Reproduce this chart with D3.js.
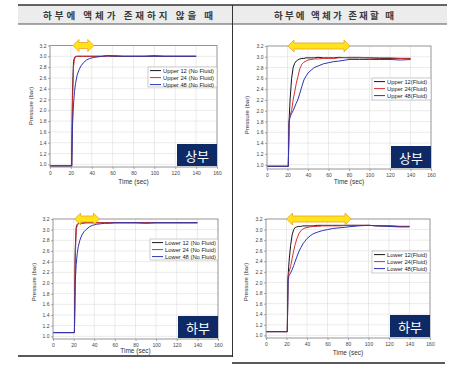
<!DOCTYPE html>
<html><head><meta charset="utf-8">
<script src="https://cdn.jsdelivr.net/npm/d3@7"></script>
<style>body{margin:0;background:#fff} svg{display:block}</style>
</head><body>
<svg id="c" width="474" height="368"></svg>
<script>
// ---------- data ----------
const headers = ["하부에 액체가 존재하지 않을 때", "하부에 액체가 존재할 때"];
const xTicks = [0, 20, 40, 60, 80, 100, 120, 140, 160];
const yTicks = [1.0, 1.2, 1.4, 1.6, 1.8, 2.0, 2.2, 2.4, 2.6, 2.8, 3.0, 3.2];
const xLabel = "Time (sec)";
const yLabel = "Pressure (bar)";

const timeNoFluid = [0, 20.8, 21.5, 22.5, 23.5, 24.5, 26, 28, 30, 32, 35, 38, 42, 46, 50, 55, 60, 70, 80, 90, 100, 110, 120, 130, 140];
const upper12NoFluid = [0.97, 0.97, 2.3, 2.9, 2.98, 3.0, 3.0, 3.0, 3.0, 3.0, 3.0, 3.0, 3.0, 3.0, 3.0, 3.01, 3.0, 3.0, 3.0, 3.0, 3.01, 3.0, 3.0, 3.0, 3.0];
const upper24NoFluid = [0.97, 0.97, 2.1, 2.8, 2.95, 2.99, 3.0, 3.0, 3.0, 3.0, 3.0, 3.0, 3.0, 3.0, 3.0, 3.0, 3.01, 3.0, 3.0, 3.0, 3.0, 3.0, 3.0, 3.0, 3.0];
const upper48NoFluid = [0.97, 0.97, 1.7, 2.1, 2.35, 2.5, 2.65, 2.76, 2.83, 2.88, 2.93, 2.96, 2.98, 2.99, 3.0, 3.01, 3.01, 3.0, 3.0, 3.0, 3.0, 3.0, 3.0, 3.0, 3.0];
const lower12NoFluid = [1.07, 1.07, 2.6, 3.05, 3.1, 3.12, 3.12, 3.12, 3.13, 3.13, 3.13, 3.13, 3.13, 3.13, 3.13, 3.13, 3.13, 3.13, 3.13, 3.13, 3.13, 3.13, 3.13, 3.13, 3.13];
const lower24NoFluid = [1.07, 1.07, 2.4, 3.0, 3.08, 3.11, 3.12, 3.12, 3.12, 3.13, 3.13, 3.13, 3.13, 3.13, 3.13, 3.13, 3.13, 3.13, 3.13, 3.13, 3.13, 3.13, 3.13, 3.13, 3.13];
const lower48NoFluid = [1.07, 1.07, 2.0, 2.35, 2.55, 2.68, 2.8, 2.9, 2.96, 3.0, 3.05, 3.08, 3.1, 3.11, 3.12, 3.12, 3.13, 3.13, 3.13, 3.12, 3.13, 3.13, 3.13, 3.13, 3.13];

const timeFluid = [0, 20.8, 21.5, 22.5, 24, 25.5, 27, 28.5, 30, 32, 34, 36, 38, 40, 43, 46, 50, 55, 60, 65, 70, 80, 90, 100, 110, 120, 130, 140];
const upper12Fluid = [0.97, 0.97, 1.8, 2.2, 2.6, 2.8, 2.88, 2.92, 2.94, 2.96, 2.97, 2.97, 2.98, 2.98, 2.98, 2.98, 2.99, 2.98, 2.98, 2.98, 2.99, 2.98, 2.98, 2.98, 2.97, 2.97, 2.97, 2.97];
const upper24Fluid = [0.97, 0.97, 1.8, 1.92, 2.0, 2.2, 2.35, 2.5, 2.62, 2.78, 2.86, 2.9, 2.92, 2.94, 2.95, 2.96, 2.96, 2.97, 2.97, 2.97, 2.98, 2.99, 2.99, 2.98, 2.98, 2.98, 2.97, 2.97];
const upper48Fluid = [0.97, 0.97, 1.78, 1.88, 1.95, 2.0, 2.07, 2.14, 2.2, 2.32, 2.45, 2.57, 2.64, 2.7, 2.75, 2.8, 2.83, 2.87, 2.89, 2.91, 2.92, 2.95, 2.95, 2.95, 2.95, 2.95, 2.94, 2.95];
const lower12Fluid = [1.07, 1.07, 2.1, 2.4, 2.7, 2.9, 3.0, 3.04, 3.05, 3.06, 3.06, 3.07, 3.07, 3.07, 3.07, 3.07, 3.08, 3.08, 3.08, 3.08, 3.08, 3.08, 3.08, 3.08, 3.07, 3.07, 3.06, 3.06];
const lower24Fluid = [1.07, 1.07, 2.1, 2.2, 2.3, 2.45, 2.6, 2.72, 2.82, 2.92, 2.98, 3.01, 3.03, 3.04, 3.05, 3.06, 3.06, 3.07, 3.07, 3.07, 3.07, 3.08, 3.08, 3.08, 3.07, 3.07, 3.06, 3.06];
const lower48Fluid = [1.07, 1.07, 2.05, 2.13, 2.18, 2.24, 2.32, 2.4, 2.48, 2.58, 2.66, 2.73, 2.78, 2.83, 2.88, 2.92, 2.95, 2.98, 3.0, 3.02, 3.03, 3.05, 3.07, 3.08, 3.07, 3.06, 3.05, 3.05];

const legendUpperNoFluid = ["Upper 12 (No Fluid)", "Upper 24 (No Fluid)", "Upper 48 (No Fluid)"];
const legendUpperFluid = ["Upper 12(Fluid)", "Upper 24(Fluid)", "Upper 48(Fluid)"];
const legendLowerNoFluid = ["Lower 12 (No Fluid)", "Lower 24 (No Fluid)", "Lower 48 (No Fluid)"];
const legendLowerFluid = ["Lower 12(Fluid)", "Lower 24(Fluid)", "Lower 48(Fluid)"];
const badgeLabels = ["상부", "하부"];
const arrowSpans = [[22, 42], [20.5, 81], [21, 45], [20, 83]];

// ---------- styles / layout ----------
const colors = ["#151520", "#d83030", "#2b36b0"];
const svg = d3.select("#c");

// table
const tbl = svg.append("g");
tbl.append("rect").attr("x", 18).attr("y", 5).attr("width", 429).attr("height", 19).attr("fill", "#ececec");
tbl.append("line").attr("x1", 18).attr("x2", 447).attr("y1", 5).attr("y2", 5).attr("stroke", "#333").attr("stroke-width", 1.4);
tbl.append("line").attr("x1", 18).attr("x2", 447).attr("y1", 24).attr("y2", 24).attr("stroke", "#555").attr("stroke-width", 1);
tbl.append("line").attr("x1", 232.5).attr("x2", 232.5).attr("y1", 5).attr("y2", 357).attr("stroke", "#333").attr("stroke-width", 1);
tbl.append("line").attr("x1", 18).attr("x2", 233).attr("y1", 356).attr("y2", 356).attr("stroke", "#222").attr("stroke-width", 1.6);
tbl.append("line").attr("x1", 232).attr("x2", 445).attr("y1", 363).attr("y2", 363).attr("stroke", "#222").attr("stroke-width", 1.6);
const hdrPos = [[43, 170], [274, 120]];
headers.forEach((h, i) => {
  tbl.append("text").attr("x", hdrPos[i][0]).attr("y", 18.5).text(h)
    .attr("textLength", hdrPos[i][1]).attr("lengthAdjust", "spacing")
    .attr("font-family", "'Noto Sans CJK KR', sans-serif").attr("font-weight", 700)
    .attr("font-size", 9.5).attr("fill", "#3a3a3a");
});

const panels = [
  {x0: 50, x1: 217, yTop: 45.5, yBot: 167, yMin: 0.95, t: timeNoFluid, s: [upper12NoFluid, upper24NoFluid, upper48NoFluid], leg: legendUpperNoFluid, legBox: [148, 67, 69, 20], badge: badgeLabels[0], arrow: arrowSpans[0], ylab: [31, 106], xlab: 173.5 + 10},
  {x0: 267, x1: 431, yTop: 46, yBot: 169, yMin: 0.92, t: timeFluid, s: [upper12Fluid, upper24Fluid, upper48Fluid], leg: legendUpperFluid, legBox: [372, 78, 59, 22], badge: badgeLabels[0], arrow: arrowSpans[1], ylab: [247, 115], xlab: 184},
  {x0: 53, x1: 218, yTop: 219, yBot: 339, yMin: 0.95, t: timeNoFluid, s: [lower12NoFluid, lower24NoFluid, lower48NoFluid], leg: legendLowerNoFluid, legBox: [150, 239, 68, 21], badge: badgeLabels[1], arrow: arrowSpans[2], ylab: [34, 282], xlab: 353},
  {x0: 266, x1: 430, yTop: 219, yBot: 338, yMin: 0.95, t: timeFluid, s: [lower12Fluid, lower24Fluid, lower48Fluid], leg: legendLowerFluid, legBox: [372, 251, 58, 22], badge: badgeLabels[1], arrow: arrowSpans[3], ylab: [246, 282], xlab: 355}
];

panels.forEach(p => {
  const g = svg.append("g");
  const x = d3.scaleLinear().domain([0, 160]).range([p.x0, p.x1]);
  const y = d3.scaleLinear().domain([p.yMin, 3.2]).range([p.yBot, p.yTop]);
  // grid
  g.selectAll(".gx").data(xTicks.slice(1, -1)).join("line")
    .attr("x1", d => x(d)).attr("x2", d => x(d)).attr("y1", p.yTop).attr("y2", p.yBot)
    .attr("stroke", "#e2e2e2").attr("stroke-width", 0.7);
  g.selectAll(".gy").data(yTicks.slice(0, -1)).join("line")
    .attr("x1", p.x0).attr("x2", p.x1).attr("y1", d => y(d)).attr("y2", d => y(d))
    .attr("stroke", "#e2e2e2").attr("stroke-width", 0.7);
  // curves
  const line = d3.line().x((d, i) => x(p.t[i])).y(d => y(d));
  p.s.forEach((ser, k) => {
    g.append("path").datum(ser).attr("d", line).attr("fill", "none")
      .attr("stroke", colors[k]).attr("stroke-width", 1).attr("stroke-linejoin", "round");
  });
  // frame
  g.append("rect").attr("x", p.x0).attr("y", p.yTop).attr("width", p.x1 - p.x0).attr("height", p.yBot - p.yTop)
    .attr("fill", "none").attr("stroke", "#8a8a8a").attr("stroke-width", 0.9);
  // axes
  const ax = g.append("g").attr("transform", `translate(0,${p.yBot})`)
    .call(d3.axisBottom(x).tickValues(xTicks).tickSize(2).tickPadding(2).tickFormat(d3.format("d")));
  const ay = g.append("g").attr("transform", `translate(${p.x0},0)`)
    .call(d3.axisLeft(y).tickValues(yTicks).tickSize(2).tickPadding(1.5).tickFormat(d3.format(".1f")));
  [ax, ay].forEach(a => {
    a.select(".domain").remove();
    a.selectAll("line").attr("stroke", "#777").attr("stroke-width", 0.6);
    a.selectAll("text").attr("font-family", "Arial, 'Liberation Sans', sans-serif").attr("font-size", 5).attr("fill", "#444");
  });
  // axis titles
  g.append("text").attr("x", (p.x0 + p.x1) / 2).attr("y", p.xlab).attr("text-anchor", "middle")
    .attr("font-family", "Arial, 'Liberation Sans', sans-serif").attr("font-size", 6.5).attr("fill", "#333").text(xLabel);
  g.append("text").attr("transform", `translate(${p.ylab[0]},${p.ylab[1]}) rotate(-90)`).attr("text-anchor", "middle")
    .attr("dominant-baseline", "middle")
    .attr("font-family", "Arial, 'Liberation Sans', sans-serif").attr("font-size", 6).attr("fill", "#333").text(yLabel);
  // legend
  const [lx, ly, lw, lh] = p.legBox;
  g.append("rect").attr("x", lx).attr("y", ly).attr("width", lw).attr("height", lh)
    .attr("fill", "#fff").attr("stroke", "#aaa").attr("stroke-width", 0.6);
  p.leg.forEach((t, k) => {
    const yy = ly + 3.6 + k * 7;
    g.append("line").attr("x1", lx + 2).attr("x2", lx + 13).attr("y1", yy).attr("y2", yy)
      .attr("stroke", colors[k]).attr("stroke-width", 1);
    g.append("text").attr("x", lx + 15).attr("y", yy + 2).text(t)
      .attr("font-family", "Arial, 'Liberation Sans', sans-serif").attr("font-size", 5.8).attr("fill", "#222");
  });
  // badge
  g.append("rect").attr("x", p.x1 - 40).attr("y", p.yBot - 23).attr("width", 40).attr("height", 22).attr("fill", "#0e2a66");
  g.append("text").attr("x", p.x1 - 20).attr("y", p.yBot - 12).attr("text-anchor", "middle").attr("dominant-baseline", "central")
    .attr("font-family", "'Noto Sans CJK KR', sans-serif").attr("font-size", 13).attr("fill", "#fff").text(p.badge);
  // arrow
  const ax0 = x(p.arrow[0]), ax1 = x(p.arrow[1]), cy = p.yTop, hh = 6, sh = 3, hl = 6;
  const path = `M${ax0},${cy} L${ax0 + hl},${cy - hh} L${ax0 + hl},${cy - sh} L${ax1 - hl},${cy - sh} L${ax1 - hl},${cy - hh} L${ax1},${cy} L${ax1 - hl},${cy + hh} L${ax1 - hl},${cy + sh} L${ax0 + hl},${cy + sh} L${ax0 + hl},${cy + hh} Z`;
  g.append("path").attr("d", path).attr("fill", "#ffe41a").attr("stroke", "#f0a020").attr("stroke-width", 0.8);
});
</script>
</body></html>
